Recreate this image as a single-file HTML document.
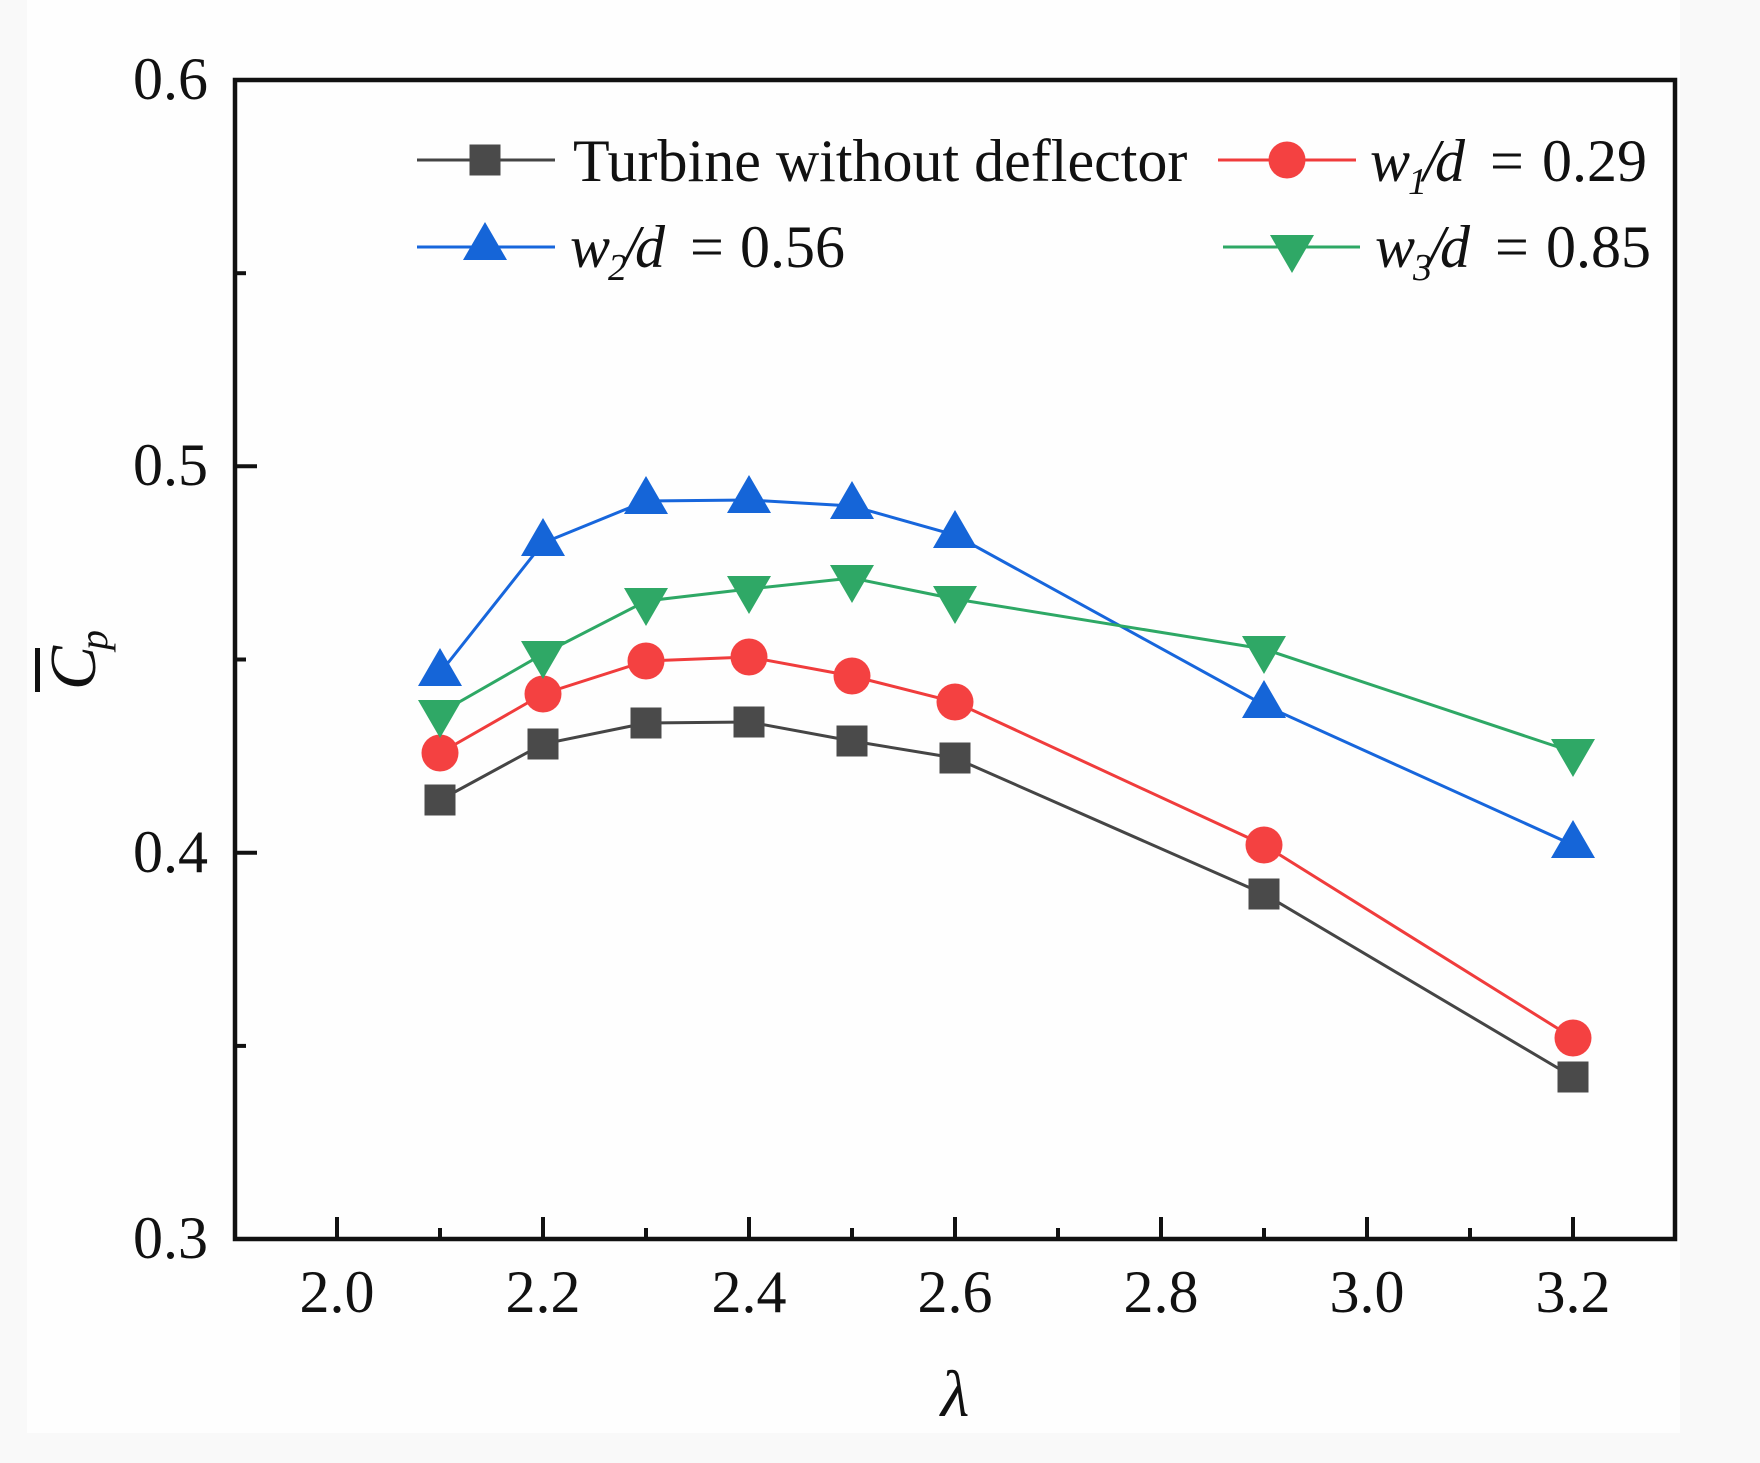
<!DOCTYPE html>
<html>
<head>
<meta charset="utf-8">
<style>
  html, body { margin:0; padding:0; background:#f9f9f9; }
  svg { display:block; }
  text { font-family: "Liberation Serif", "Times New Roman", serif; fill:#111; }
</style>
</head>
<body>
<svg width="1760" height="1463" viewBox="0 0 1760 1463" xmlns="http://www.w3.org/2000/svg">
  <rect x="0" y="0" width="1760" height="1463" fill="#f9f9f9"/>
  <rect x="27" y="0" width="1653" height="1433" fill="#fefefe"/>

  <!-- axes frame -->
  <rect x="235" y="80" width="1440" height="1159" fill="none" stroke="#111" stroke-width="4.5"/>

  <!-- y ticks -->
  <g stroke="#111" stroke-width="4">
    <line x1="235" y1="466.3" x2="257" y2="466.3"/>
    <line x1="235" y1="852.7" x2="257" y2="852.7"/>
    <line x1="235" y1="273.2" x2="246" y2="273.2"/>
    <line x1="235" y1="659.5" x2="246" y2="659.5"/>
    <line x1="235" y1="1045.9" x2="246" y2="1045.9"/>
  </g>
  <!-- x ticks -->
  <g stroke="#111" stroke-width="4">
    <line x1="337" y1="1239" x2="337" y2="1217"/>
    <line x1="543" y1="1239" x2="543" y2="1217"/>
    <line x1="749" y1="1239" x2="749" y2="1217"/>
    <line x1="955" y1="1239" x2="955" y2="1217"/>
    <line x1="1161" y1="1239" x2="1161" y2="1217"/>
    <line x1="1367" y1="1239" x2="1367" y2="1217"/>
    <line x1="1573" y1="1239" x2="1573" y2="1217"/>
    <line x1="440" y1="1239" x2="440" y2="1228"/>
    <line x1="646" y1="1239" x2="646" y2="1228"/>
    <line x1="852" y1="1239" x2="852" y2="1228"/>
    <line x1="1058" y1="1239" x2="1058" y2="1228"/>
    <line x1="1264" y1="1239" x2="1264" y2="1228"/>
    <line x1="1470" y1="1239" x2="1470" y2="1228"/>
  </g>

  <!-- y tick labels -->
  <g font-size="60" text-anchor="end">
    <text x="208" y="99">0.6</text>
    <text x="208" y="485">0.5</text>
    <text x="208" y="872">0.4</text>
    <text x="208" y="1258">0.3</text>
  </g>
  <!-- x tick labels -->
  <g font-size="60" text-anchor="middle">
    <text x="337" y="1312">2.0</text>
    <text x="543" y="1312">2.2</text>
    <text x="749" y="1312">2.4</text>
    <text x="955" y="1312">2.6</text>
    <text x="1161" y="1312">2.8</text>
    <text x="1367" y="1312">3.0</text>
    <text x="1573" y="1312">3.2</text>
  </g>

  <!-- axis titles -->
  <text x="955" y="1416" font-size="66" font-style="italic" text-anchor="middle">λ</text>
  <g transform="translate(95,690) rotate(-90)">
    <text x="0" y="0" font-size="66" font-style="italic">C</text>
    <text x="40" y="12" font-size="40" font-style="italic">p</text>
  </g>
  <line x1="37.5" y1="648" x2="37.5" y2="692" stroke="#111" stroke-width="5"/>

  <!-- series: black -->
  <polyline fill="none" stroke="#454545" stroke-width="3"
    points="440,800 543,744 646,723 749,722 852,741 955,758 1264,894 1573,1077"/>
  <g fill="#4a4a4a">
    <rect x="424.5" y="784.5" width="31" height="31"/>
    <rect x="527.5" y="728.5" width="31" height="31"/>
    <rect x="630.5" y="707.5" width="31" height="31"/>
    <rect x="733.5" y="706.5" width="31" height="31"/>
    <rect x="836.5" y="725.5" width="31" height="31"/>
    <rect x="939.5" y="742.5" width="31" height="31"/>
    <rect x="1248.5" y="878.5" width="31" height="31"/>
    <rect x="1557.5" y="1061.5" width="31" height="31"/>
  </g>

  <!-- series: red -->
  <polyline fill="none" stroke="#f03c3c" stroke-width="3"
    points="440,753 543,694 646,661 749,657 852,676 955,702 1264,845 1573,1038"/>
  <g fill="#f44141">
    <circle cx="440" cy="753" r="18.5"/>
    <circle cx="543" cy="694" r="18.5"/>
    <circle cx="646" cy="661" r="18.5"/>
    <circle cx="749" cy="657" r="18.5"/>
    <circle cx="852" cy="676" r="18.5"/>
    <circle cx="955" cy="702" r="18.5"/>
    <circle cx="1264" cy="845" r="18.5"/>
    <circle cx="1573" cy="1038" r="18.5"/>
  </g>

  <!-- series: blue -->
  <polyline fill="none" stroke="#1766dc" stroke-width="3"
    points="440,673 543,543 646,501 749,500 852,506 955,535 1264,705 1573,845"/>
  <g fill="#1565d8">
    <polygon points="440,648 462,686 418,686"/>
    <polygon points="543,518 565,556 521,556"/>
    <polygon points="646,476 668,514 624,514"/>
    <polygon points="749,475 771,513 727,513"/>
    <polygon points="852,481 874,519 830,519"/>
    <polygon points="955,510 977,548 933,548"/>
    <polygon points="1264,680 1286,718 1242,718"/>
    <polygon points="1573,820 1595,858 1551,858"/>
  </g>

  <!-- series: green -->
  <polyline fill="none" stroke="#2ea865" stroke-width="3"
    points="440,713 543,654 646,601 749,589 852,578 955,599 1264,649 1573,752"/>
  <g fill="#2fa866">
    <polygon points="418,700 462,700 440,738"/>
    <polygon points="521,641 565,641 543,679"/>
    <polygon points="624,588 668,588 646,626"/>
    <polygon points="727,576 771,576 749,614"/>
    <polygon points="830,565 874,565 852,603"/>
    <polygon points="933,586 977,586 955,624"/>
    <polygon points="1242,636 1286,636 1264,674"/>
    <polygon points="1551,739 1595,739 1573,777"/>
  </g>

  <!-- legend -->
  <line x1="417" y1="160" x2="555" y2="160" stroke="#454545" stroke-width="3"/>
  <rect x="469.5" y="144.5" width="31" height="31" fill="#4a4a4a"/>
  <text x="573" y="181" font-size="60">Turbine without deflector</text>

  <line x1="1218" y1="160" x2="1356" y2="160" stroke="#f03c3c" stroke-width="3"/>
  <circle cx="1287" cy="160" r="18.5" fill="#f44141"/>
  <text font-size="60" y="181">
    <tspan x="1370" font-style="italic">w</tspan><tspan x="1408" y="194" font-size="38" font-style="italic">1</tspan><tspan x="1423" y="181" font-style="italic">/</tspan><tspan x="1435" font-style="italic">d</tspan><tspan x="1490">=</tspan><tspan x="1542">0.29</tspan>
  </text>

  <line x1="417" y1="247" x2="555" y2="247" stroke="#1766dc" stroke-width="3"/>
  <polygon points="485,222 507,260 463,260" fill="#1565d8"/>
  <text font-size="60" y="267">
    <tspan x="570" font-style="italic">w</tspan><tspan x="608" y="280" font-size="38" font-style="italic">2</tspan><tspan x="623" y="267" font-style="italic">/</tspan><tspan x="635" font-style="italic">d</tspan><tspan x="690">=</tspan><tspan x="740">0.56</tspan>
  </text>

  <line x1="1223" y1="247" x2="1360" y2="247" stroke="#2ea865" stroke-width="3"/>
  <polygon points="1270,235 1314,235 1292,273" fill="#2fa866"/>
  <text font-size="60" y="267">
    <tspan x="1375" font-style="italic">w</tspan><tspan x="1413" y="280" font-size="38" font-style="italic">3</tspan><tspan x="1428" y="267" font-style="italic">/</tspan><tspan x="1440" font-style="italic">d</tspan><tspan x="1495">=</tspan><tspan x="1546">0.85</tspan>
  </text>
</svg>
</body>
</html>
